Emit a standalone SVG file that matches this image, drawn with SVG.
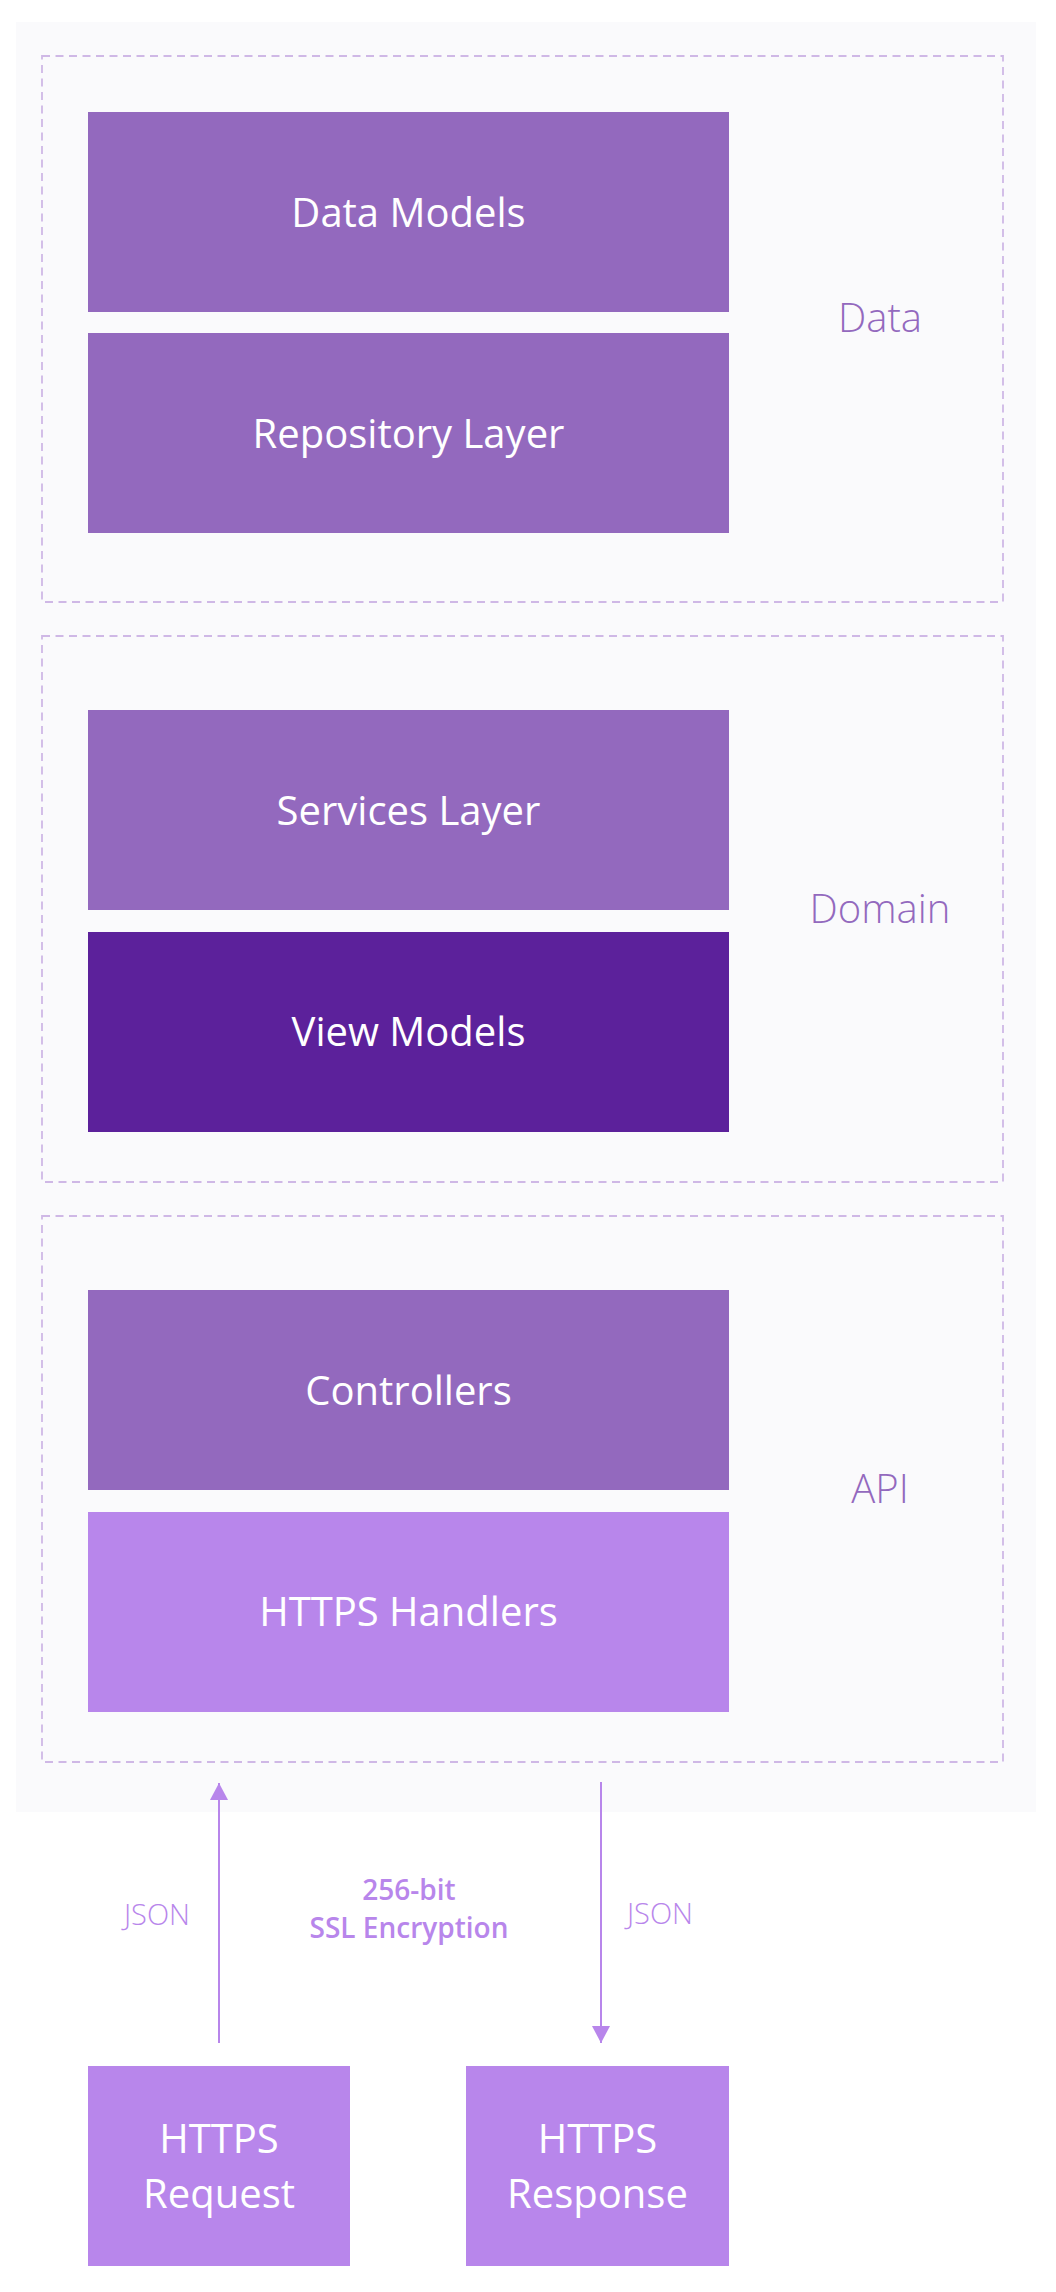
<svg xmlns="http://www.w3.org/2000/svg" width="1056" height="2292" viewBox="0 0 1056 2292">
  <defs>
    <style>
      .bg { fill: #FAFAFC; }
      .group { fill: none; stroke: #CFB8E6; stroke-width: 1.8; stroke-dasharray: 8 5.5; }
      .glabel { font-family: "Open Sans", "Liberation Sans", sans-serif; font-weight: 300; font-size: 40px; fill: #9369BE; text-anchor: middle; }
      .node-text { font-family: "Open Sans", "Liberation Sans", sans-serif; font-weight: 400; font-size: 40px; fill: #FFFFFF; text-anchor: middle; }
      .mid { fill: #9369BE; }
      .dark { fill: #5C219B; }
      .light { fill: #B886EB; }
      .conn { stroke: #B886EB; stroke-width: 2; fill: none; }
      .elabel { font-family: "Open Sans", "Liberation Sans", sans-serif; font-weight: 300; font-size: 29px; fill: #B886EB; text-anchor: middle; }
      .note { font-family: "Open Sans", "Liberation Sans", sans-serif; font-weight: 600; font-size: 28px; fill: #B886EB; text-anchor: middle; }
    </style>
    <marker id="arrow" viewBox="0 0 18 18" refX="17" refY="9" markerWidth="18" markerHeight="18" markerUnits="userSpaceOnUse" orient="auto">
      <path d="M0,0 L17,9 L0,18 Z" fill="#B886EB"/>
    </marker>
  </defs>

  <rect class="bg" x="16" y="22" width="1020" height="1790"/>

  <g id="group-data">
    <rect class="group" x="42" y="56" width="961" height="546"/>
    <text class="glabel" x="880" y="332">Data</text>
  </g>
  <g id="group-domain">
    <rect class="group" x="42" y="636" width="961" height="546"/>
    <text class="glabel" x="880" y="923">Domain</text>
  </g>
  <g id="group-api">
    <rect class="group" x="42" y="1216" width="961" height="546"/>
    <text class="glabel" x="880" y="1503">API</text>
  </g>

  <g id="node-data-models">
    <rect class="mid" x="88" y="112" width="641" height="200"/>
    <text class="node-text" x="408.5" y="226.5">Data Models</text>
  </g>
  <g id="node-repository-layer">
    <rect class="mid" x="88" y="333" width="641" height="200"/>
    <text class="node-text" x="408.5" y="447.5">Repository Layer</text>
  </g>
  <g id="node-services-layer">
    <rect class="mid" x="88" y="710" width="641" height="200"/>
    <text class="node-text" x="408.5" y="824.5">Services Layer</text>
  </g>
  <g id="node-view-models">
    <rect class="dark" x="88" y="932" width="641" height="200"/>
    <text class="node-text" x="408.5" y="1046">View Models</text>
  </g>
  <g id="node-controllers">
    <rect class="mid" x="88" y="1290" width="641" height="200"/>
    <text class="node-text" x="408.5" y="1404.5">Controllers</text>
  </g>
  <g id="node-https-handlers">
    <rect class="light" x="88" y="1512" width="641" height="200"/>
    <text class="node-text" x="408.5" y="1626">HTTPS Handlers</text>
  </g>
  <g id="node-https-request">
    <rect class="light" x="88" y="2066" width="262" height="200"/>
    <text class="node-text" x="219" y="2153">HTTPS</text>
    <text class="node-text" x="219" y="2208">Request</text>
  </g>
  <g id="node-https-response">
    <rect class="light" x="466" y="2066" width="263" height="200"/>
    <text class="node-text" x="597.5" y="2153">HTTPS</text>
    <text class="node-text" x="597.5" y="2208">Response</text>
  </g>

  <g id="connectors">
    <line class="conn" x1="219" y1="2043" x2="219" y2="1783" marker-end="url(#arrow)"/>
    <line class="conn" x1="601" y1="1782" x2="601" y2="2043" marker-end="url(#arrow)"/>
    <text class="elabel" x="157" y="1925">JSON</text>
    <text class="elabel" x="660" y="1924">JSON</text>
    <text class="note" x="409" y="1900">256-bit</text>
    <text class="note" x="409" y="1938">SSL Encryption</text>
  </g>
</svg>
